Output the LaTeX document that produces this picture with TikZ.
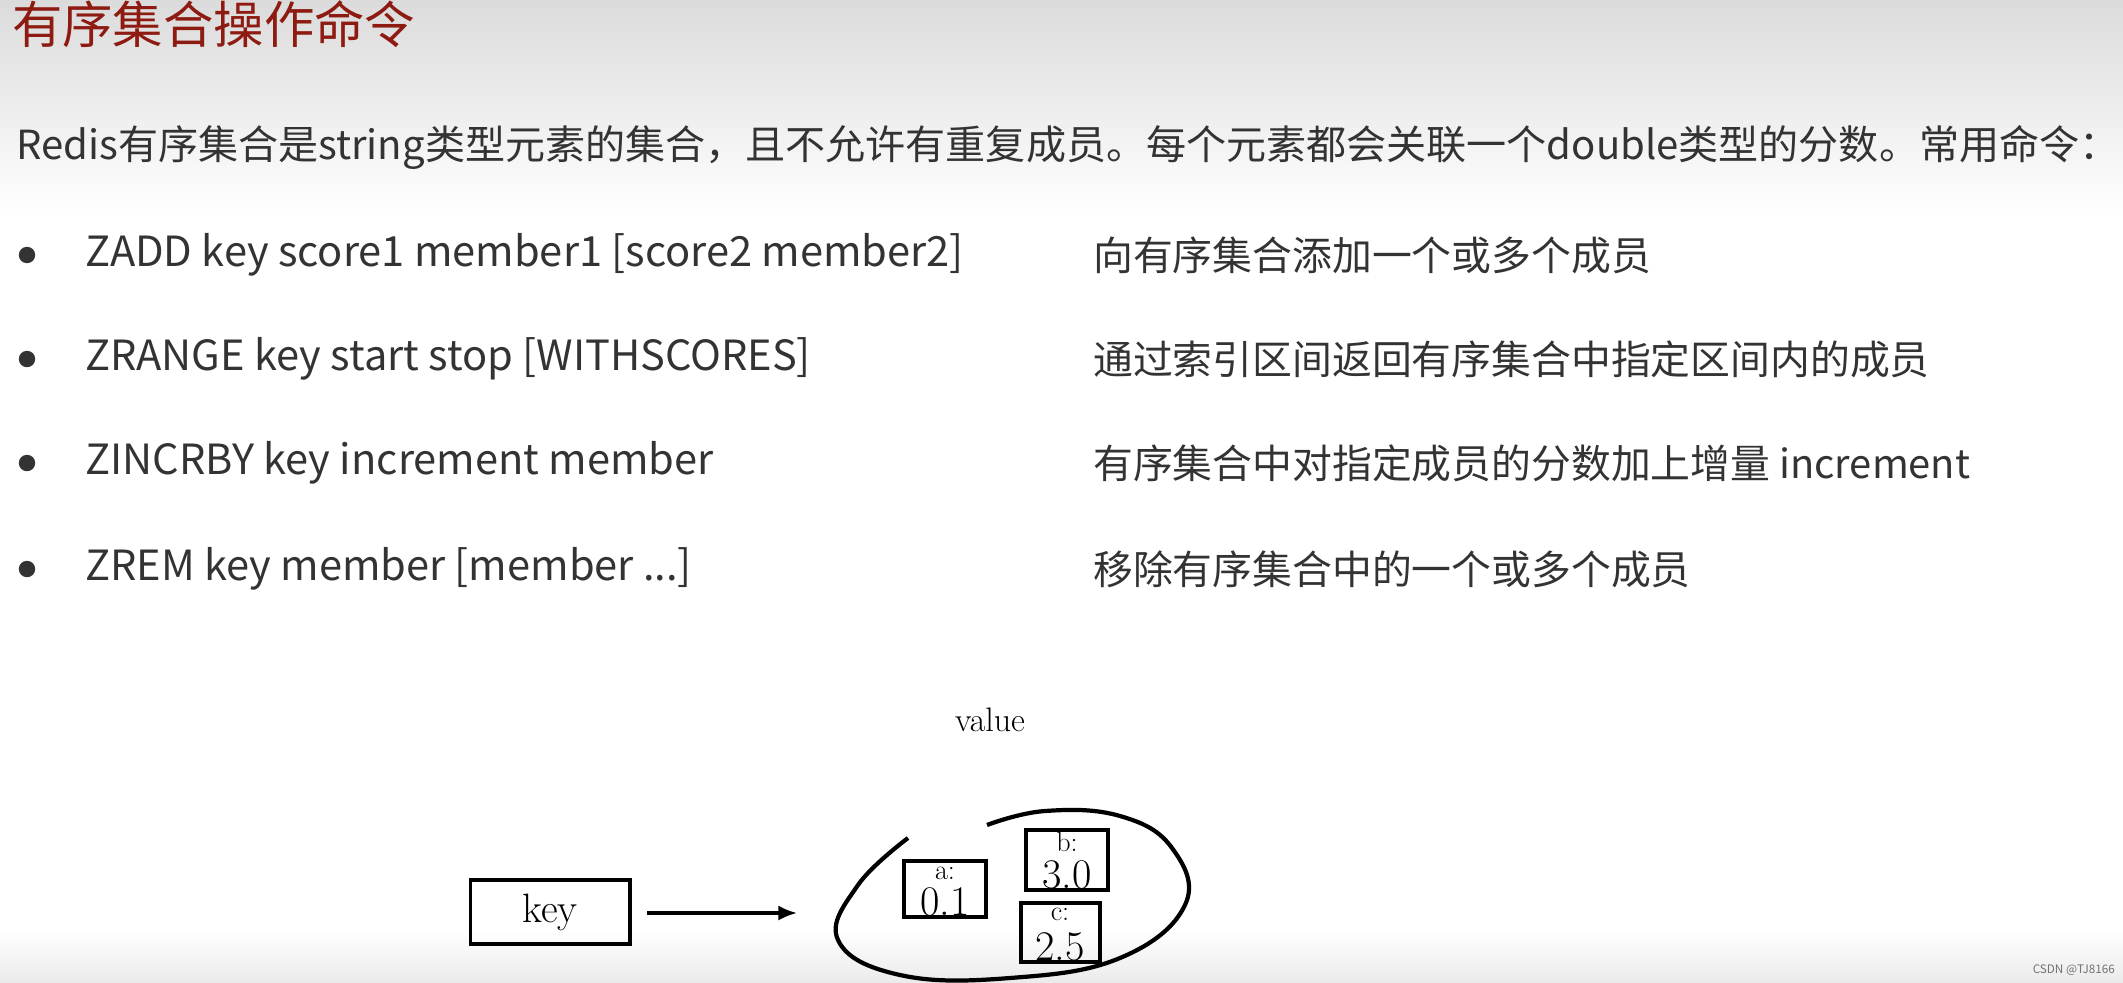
\documentclass[tikz,border=0pt]{standalone}
\usepackage{fontspec}
\usetikzlibrary{arrows.meta}
\newfontfamily\cjk{Noto Sans CJK SC}
\definecolor{titred}{HTML}{8E1B12}
\definecolor{txt}{HTML}{333333}
\begin{document}
\begin{tikzpicture}[x=0.03cm,y=-0.03cm,
  cmd/.style={anchor=west,inner sep=0,font=\cjk\fontsize{35.5}{40}\selectfont,text=txt},
  desc/.style={anchor=west,inner sep=0,font=\cjk\fontsize{34}{40}\selectfont,text=txt},
  bul/.style={circle,fill=txt,inner sep=0,minimum size=14pt},
  hand/.style={draw=black,line width=3.4pt},
  sbox/.style={hand,inner sep=0,align=center,font=\fontsize{24}{24}\selectfont}]
\useasboundingbox (0,0) rectangle (2123,983);
\shade[top color=black!14,bottom color=white] (0,0) rectangle (2123,215);
\shade[top color=white,bottom color=black!8] (0,930) rectangle (2123,983);
\node[anchor=west,inner sep=0,text=titred,font=\cjk\fontsize{43}{48}\selectfont] (title) at (12,24) {有序集合操作命令};
\node[cmd,font=\cjk\fontsize{34.2}{40}\selectfont] (intro) at (16,147) {Redis有序集合是string类型元素的集合，且不允许有重复成员。每个元素都会关联一个double类型的分数。常用命令：};
\foreach \i/\y/\c/\d in {1/255/{ZADD key score1 member1 [score2 member2]}/{向有序集合添加一个或多个成员},
  2/359/{ZRANGE key start stop [WITHSCORES]}/{通过索引区间返回有序集合中指定区间内的成员},
  3/463/{ZINCRBY key increment member}/{有序集合中对指定成员的分数加上增量 increment},
  4/569/{ZREM key member [member ...]}/{移除有序集合中的一个或多个成员}}{
  \node[bul] (b\i) at (27,\y) {};
  \node[cmd] (c\i) at (85,\y) {\c};
  \node[desc] (d\i) at (1093,\y) {\d};
}
\node[font=\fontsize{29}{32}\selectfont] (value) at (990,720) {value};
\node[hand,minimum width=4.77cm,minimum height=1.92cm,inner sep=0,font=\fontsize{35}{38}\selectfont] (key) at (550,912) {key};
\coordinate (arrend) at (797,913);
\coordinate (arrst) at (647,913);
\draw[line width=2.6pt,-{Latex[length=16pt,width=13pt]}] (arrst) -- (arrend);
\draw[hand,line width=3.6pt] plot[smooth,tension=0.7] coordinates {(908,838) (858,885) (838,940) (900,975) (1010,978) (1120,958) (1185,905) (1172,848) (1120,816) (1045,811) (987,825)};
\node[sbox,minimum width=2.46cm,minimum height=1.68cm] (a) at (945,889) {};
\node[sbox,minimum width=2.46cm,minimum height=1.8cm] (b) at (1067,860) {};
\node[sbox,minimum width=2.37cm,minimum height=1.77cm] (c) at (1060,932) {};
\foreach \n/\l/\v in {a/a:/0.1,b/b:/3.0,c/c:/2.5}{
  \node[inner sep=0,font=\fontsize{24}{24}\selectfont] (\n l) at ([yshift=-0.42cm]\n.north) {\l};
  \node[inner sep=0,font=\fontsize{36}{36}\selectfont] (\n v) at ([yshift=0.5cm]\n.south) {\v};
}
\node[anchor=east,inner sep=0,text=black!55,font=\cjk\fontsize{10}{12}\selectfont] (wm) at (2115,970) {CSDN @TJ8166};
\end{tikzpicture}
\end{document}
